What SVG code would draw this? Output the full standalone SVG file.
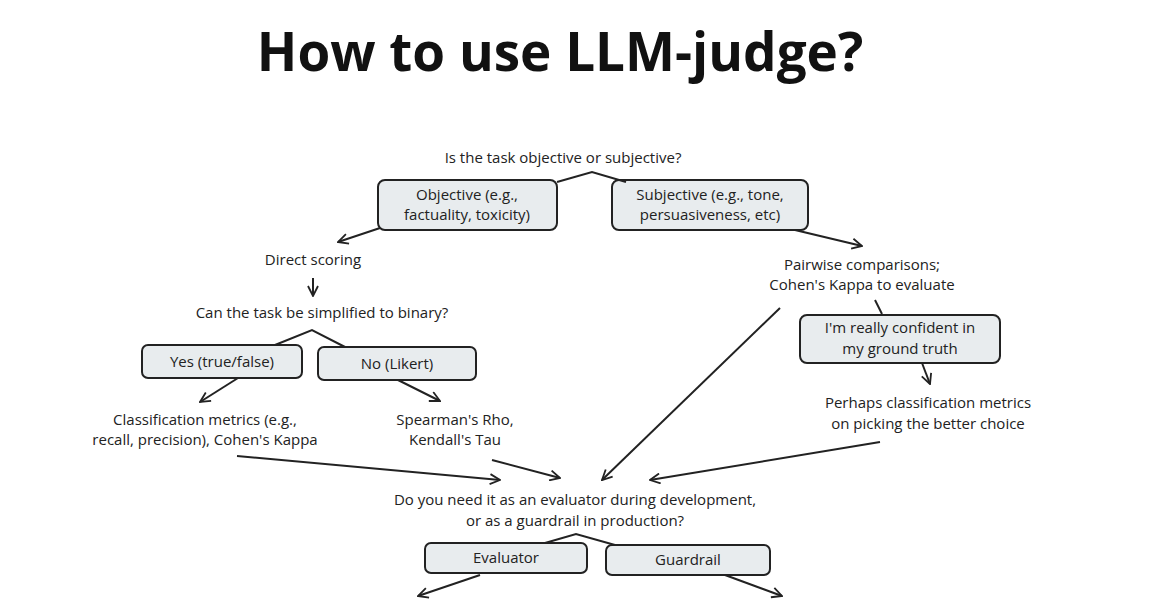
<svg xmlns="http://www.w3.org/2000/svg" width="1170" height="600" viewBox="0 0 1170 600">
<defs>
<marker id="ah" viewBox="0 0 12 12" refX="11" refY="6" markerWidth="12" markerHeight="12" markerUnits="userSpaceOnUse" orient="auto"><path d="M1,1 L11,6 L1,11" fill="none" stroke="#222" stroke-width="1.8"/></marker>
<style>
.t{font-family:"Open Sans","DejaVu Sans",sans-serif;font-size:15px;fill:#222;text-anchor:middle}
.b{fill:#e8ecee;stroke:#222;stroke-width:2}
.c{stroke:#222;stroke-width:2;fill:none}
.a{stroke:#222;stroke-width:2;fill:none;marker-end:url(#ah)}
</style>
</defs>
<rect width="1170" height="600" fill="#fff"/>
<text x="560" y="71" font-family="Open Sans,sans-serif" font-weight="bold" font-size="53" text-anchor="middle" fill="#111">How to use LLM-judge?</text>
<g id="q1"><text class="t" x="563" y="163">Is the task objective or subjective?</text></g>
<g id="objective"><rect class="b" x="378" y="180" width="179" height="50" rx="7"/><text class="t" x="467" y="200">Objective (e.g.,</text><text class="t" x="467" y="220">factuality, toxicity)</text></g>
<g id="subjective"><rect class="b" x="612" y="180" width="196" height="50" rx="7"/><text class="t" x="710" y="200">Subjective (e.g., tone,</text><text class="t" x="710" y="220">persuasiveness, etc)</text></g>
<g id="direct"><text class="t" x="313" y="265">Direct scoring</text></g>
<g id="q2"><text class="t" x="322" y="318">Can the task be simplified to binary?</text></g>
<g id="yes"><rect class="b" x="142" y="345" width="160" height="33" rx="6"/><text class="t" x="222" y="367">Yes (true/false)</text></g>
<g id="no"><rect class="b" x="318" y="347" width="158" height="33" rx="6"/><text class="t" x="397" y="369">No (Likert)</text></g>
<g id="classif"><text class="t" x="205" y="425">Classification metrics (e.g.,</text><text class="t" x="205" y="445">recall, precision), Cohen's Kappa</text></g>
<g id="spearman"><text class="t" x="455" y="425">Spearman's Rho,</text><text class="t" x="455" y="445">Kendall's Tau</text></g>
<g id="pairwise"><text class="t" x="862" y="270">Pairwise comparisons;</text><text class="t" x="862" y="290">Cohen's Kappa to evaluate</text></g>
<g id="confident"><rect class="b" x="800" y="315" width="200" height="48" rx="7"/><text class="t" x="900" y="333">I'm really confident in</text><text class="t" x="900" y="354">my ground truth</text></g>
<g id="perhaps"><text class="t" x="928" y="408">Perhaps classification metrics</text><text class="t" x="928" y="429">on picking the better choice</text></g>
<g id="q3"><text class="t" x="575" y="505">Do you need it as an evaluator during development,</text><text class="t" x="575" y="526">or as a guardrail in production?</text></g>
<g id="evaluator"><rect class="b" x="425" y="543" width="162" height="30" rx="6"/><text class="t" x="506" y="563">Evaluator</text></g>
<g id="guardrail"><rect class="b" x="606" y="545" width="164" height="30" rx="6"/><text class="t" x="688" y="565">Guardrail</text></g>
<g id="connectors">
<path class="c" d="M557,182 L592,172 L626,182"/>
<path class="a" d="M380,228 L338,242"/>
<path class="a" d="M313,278 L313,296"/>
<path class="c" d="M275,345 L312,330 L345,347"/>
<path class="a" d="M238,378 L200,402"/>
<path class="a" d="M398,380 L440,401"/>
<path class="a" d="M795,230 L862,246"/>
<path class="c" d="M875,300 L882,314"/>
<path class="a" d="M922,363 L930,384"/>
<path class="a" d="M237,456 L500,480"/>
<path class="a" d="M492,460 L560,478"/>
<path class="a" d="M780,308 L602,480"/>
<path class="a" d="M880,442 L650,480"/>
<path class="c" d="M545,543 L576,534 L615,545"/>
<path class="a" d="M480,575 L418,596"/>
<path class="a" d="M725,575 L782,596"/>
</g>
</svg>
